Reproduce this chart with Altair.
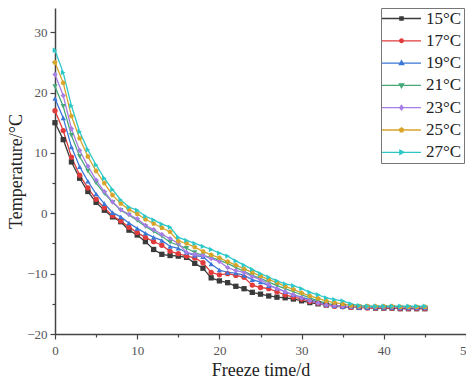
import altair as alt
import pandas as pd

days = list(range(46))
series = ["15°C", "17°C", "19°C", "21°C", "23°C", "25°C", "27°C"]
colors = ["#3a3a3a", "#e23b3b", "#3a78d8", "#46a878", "#a77ee6", "#d8a52a", "#2cc8c8"]
# chart markers
shapes = ["square", "circle", "triangle-up", "triangle-down", "diamond",
          "M0,-1L0.95,-0.31L0.59,0.81L-0.59,0.81L-0.95,-0.31Z", "triangle-right"]
# legend symbols: a line with the marker in the middle
LINE = "M-5.4,0H5.4"
legend_shapes = [
    LINE + "M-0.45,-0.45H0.45V0.45H-0.45Z",
    LINE + "M0.5,0A0.5,0.5 0 1,1 -0.5,0A0.5,0.5 0 1,1 0.5,0Z",
    LINE + "M0,-0.65L0.6,0.45L-0.6,0.45Z",
    LINE + "M0,0.65L0.6,-0.45L-0.6,-0.45Z",
    LINE + "M0,-0.65L0.5,0L0,0.65L-0.5,0Z",
    LINE + "M0,-0.6L0.57,-0.19L0.35,0.49L-0.35,0.49L-0.57,-0.19Z",
    LINE + "M0.65,0L-0.45,0.6L-0.45,-0.6Z",
]

t15 = [15.0, 12.2, 8.5, 5.8, 3.6, 1.8, 0.5, -0.6, -1.4, -2.8, -3.6, -4.7, -6.0, -6.8, -7.0, -7.1,
       -7.3, -8.3, -9.1, -10.7, -11.2, -11.5, -12.1, -12.5, -13.1, -13.4, -13.7, -13.9, -14.0,
       -14.2, -14.5, -14.8, -15.0, -15.2, -15.3, -15.4, -15.5, -15.6, -15.6, -15.7, -15.7, -15.7,
       -15.8, -15.8, -15.8, -15.8]
t17 = [17.0, 13.7, 9.3, 6.3, 4.2, 2.3, 0.9, -0.4, -1.3, -2.3, -3.2, -4.0, -4.7, -5.3, -6.3, -6.7,
       -7.1, -7.4, -8.2, -9.8, -10.2, -10.0, -10.3, -10.6, -11.9, -12.3, -12.5, -13.0, -13.5,
       -13.9, -14.2, -14.6, -14.9, -15.2, -15.4, -15.5, -15.6, -15.6, -15.7, -15.7, -15.7, -15.7,
       -15.8, -15.8, -15.8, -15.8]
t19 = [19.0, 15.8, 11.0, 7.7, 5.3, 3.2, 1.6, 0.1, -0.6, -1.6, -2.5, -3.3, -4.0, -4.5, -5.5, -5.8,
       -6.5, -7.0, -7.2, -8.4, -9.4, -9.8, -9.9, -10.3, -11.0, -11.4, -12.0, -12.4, -13.0, -13.5,
       -13.9, -14.3, -14.7, -15.1, -15.3, -15.5, -15.5, -15.6, -15.6, -15.6, -15.6, -15.6, -15.7,
       -15.7, -15.7, -15.7]
t21 = [21.0, 17.7, 12.9, 9.4, 7.0, 5.0, 3.3, 1.8, 0.5, -0.3, -1.2, -2.2, -3.0, -3.8, -4.8, -5.3,
       -5.8, -6.5, -7.0, -7.3, -7.8, -8.3, -9.0, -9.6, -10.3, -10.8, -11.4, -12.0, -12.5, -13.0,
       -13.5, -14.0, -14.5, -14.9, -15.2, -15.4, -15.5, -15.5, -15.6, -15.6, -15.6, -15.6, -15.6,
       -15.6, -15.6, -15.6]
t23 = [23.0, 19.5, 14.0, 10.4, 7.8, 5.5, 3.6, 1.9, 0.6, -0.2, -0.9, -2.0, -2.7, -3.5, -4.2, -5.0,
       -6.5, -6.8, -7.0, -7.5, -8.0, -9.0, -9.5, -9.8, -10.5, -11.0, -11.8, -12.5, -13.0, -13.5,
       -14.0, -14.5, -14.9, -15.2, -15.3, -15.4, -15.5, -15.5, -15.5, -15.5, -15.5, -15.5, -15.6,
       -15.6, -15.6, -15.6]
t25 = [25.0, 21.6, 16.1, 12.4, 9.4, 7.0, 5.0, 3.0, 1.6, 0.6, -0.1, -1.0, -1.7, -2.4, -3.1, -4.6,
       -5.0, -5.6, -6.3, -6.9, -7.4, -8.0, -8.6, -9.2, -9.8, -10.4, -11.0, -11.5, -12.1, -12.6,
       -13.2, -13.7, -14.1, -14.5, -14.8, -15.0, -15.3, -15.4, -15.4, -15.4, -15.4, -15.4, -15.5,
       -15.5, -15.5, -15.5]
t27 = [27.0, 23.3, 17.8, 13.5, 10.5, 8.0, 5.8, 3.9, 2.2, 1.0, 0.5, -0.5, -1.1, -1.8, -2.3, -4.0,
       -4.5, -5.0, -5.5, -6.0, -6.6, -7.1, -7.9, -8.6, -9.3, -10.0, -10.6, -11.2, -11.7, -12.0,
       -12.5, -13.1, -13.5, -14.0, -14.3, -14.5, -15.0, -15.3, -15.4, -15.4, -15.4, -15.4, -15.4,
       -15.4, -15.4, -15.4]

all_vals = [t15, t17, t19, t21, t23, t25, t27]
rows = []
for name, vals in zip(series, all_vals):
    for d, v in zip(days, vals):
        rows.append({"day": d, "temp": v, "series": name})
df = pd.DataFrame(rows)

FONT = "Liberation Serif"

x = alt.X("day:Q", scale=alt.Scale(domain=[0, 50], nice=False),
          axis=alt.Axis(title="Freeze time/d", values=list(range(0, 51, 5)),
                        labelExpr="datum.value % 10 === 0 ? datum.label : ''",
                        tickSize={"condition": {"test": "datum.value % 10 === 0", "value": 5}, "value": 3},
                        grid=False, labelFlush=False, labelOverlap=False))
y = alt.Y("temp:Q", scale=alt.Scale(domain=[-20, 34], nice=False, zero=False),
          axis=alt.Axis(title="Temperature/°C", values=list(range(-20, 35, 5)),
                        labelExpr="datum.value % 10 === 0 ? datum.label : ''",
                        tickSize={"condition": {"test": "datum.value % 10 === 0", "value": 5}, "value": 3},
                        grid=False, labelOverlap=False))

color_scale = alt.Scale(domain=series, range=colors)
shape_scale = alt.Scale(domain=series, range=shapes)
legend_scale = alt.Scale(domain=series, range=legend_shapes)

leg = dict(title=None, orient="none", legendX=326, legendY=0,
           symbolSize=52, symbolStrokeWidth=1.3, symbolOffset=10, labelOffset=16,
           labelFontSize=17, labelFont=FONT, labelColor="#222",
           rowPadding=4.3, padding=2, strokeColor="#777", fillColor="white")

lines = alt.Chart(df).mark_line(strokeWidth=1.3).encode(
    x=x, y=y,
    color=alt.Color("series:N", scale=color_scale, legend=None),
    detail="series:N",
)

points = alt.Chart(df).mark_point(filled=True, size=28, opacity=1).encode(
    x=x, y=y,
    color=alt.Color("series:N", scale=color_scale, legend=None),
    shape=alt.Shape("series:N", scale=shape_scale, legend=None),
)

legend_layer = alt.Chart(df).transform_filter("false").mark_point(opacity=1, strokeWidth=1.3).encode(
    x=x, y=y,
    fill=alt.Fill("series:N", scale=color_scale, legend=alt.Legend(**leg)),
    stroke=alt.Stroke("series:N", scale=color_scale, legend=alt.Legend(**leg)),
    shape=alt.Shape("series:N", scale=legend_scale, legend=alt.Legend(**leg)),
)

chart = alt.layer(lines, points, legend_layer).resolve_scale(
    shape="independent", fill="independent", stroke="independent"
).properties(
    width=411, height=326,
    autosize=alt.AutoSizeParams(type="none"),
    padding={"left": 47, "top": 0, "right": 0, "bottom": 45},
).configure_view(stroke=None).configure_axis(
    domainColor="#444", domainWidth=1.5, tickColor="#444", tickWidth=1.2,
    labelFont=FONT, labelFontSize=13, labelColor="#555",
    titleFont=FONT, titleFontSize=18, titleFontWeight="normal", titleColor="#222",
).configure_axisX(titlePadding=4, labelPadding=5).configure_axisY(titlePadding=1, labelPadding=3)

chart.save("out.html", embed_options={"renderer": "svg", "actions": False})
